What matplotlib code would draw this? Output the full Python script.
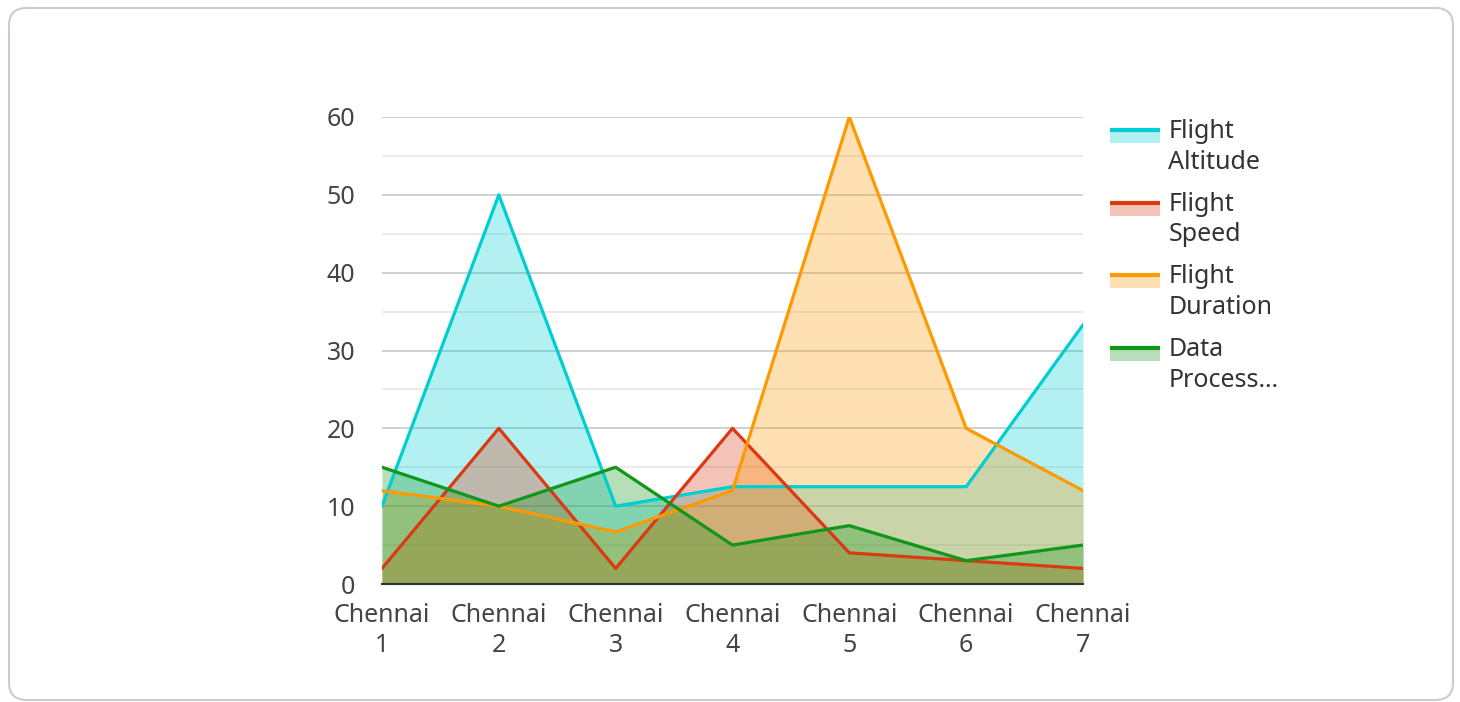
import matplotlib
matplotlib.use("Agg")
import matplotlib.pyplot as plt
from matplotlib.patches import FancyBboxPatch, Rectangle
from matplotlib.lines import Line2D
from matplotlib.legend_handler import HandlerBase

plt.rcParams['font.family'] = ['Noto Sans', 'DejaVu Sans']

categories = ["Chennai\n1", "Chennai\n2", "Chennai\n3", "Chennai\n4", "Chennai\n5", "Chennai\n6", "Chennai\n7"]
altitude = [10, 50, 10, 12.5, 12.5, 12.5, 33.3]
speed = [2, 20, 2, 20, 4, 3, 2]
duration = [12, 10, 6.7, 12, 60, 20, 12]
processing = [15, 10, 15, 5, 7.5, 3, 5]

series = [
    ("Flight\nAltitude", altitude, "#00CED1"),
    ("Flight\nSpeed", speed, "#DC3912"),
    ("Flight\nDuration", duration, "#FF9900"),
    ("Data\nProcess\u2026", processing, "#109618"),
]

FS = 18


class AreaHandler(HandlerBase):
    # swatch: line on top of a pale block, lined up with the first text line
    def create_artists(self, legend, orig_handle, xdescent, ydescent, width, height, fontsize, trans):
        color = orig_handle.get_color()
        y_line = 1.06 * fontsize
        y_bot = 0.54 * fontsize
        rect = Rectangle((-xdescent, y_bot), width, y_line - y_bot,
                         facecolor=color, alpha=0.3, edgecolor="none", transform=trans)
        line = Line2D([-xdescent, -xdescent + width], [y_line, y_line],
                      color=color, lw=3, solid_capstyle="butt", transform=trans)
        return [rect, line]


fig = plt.figure(figsize=(14.6, 7.02), dpi=100)
card = FancyBboxPatch((9 / 1460, 2 / 702), 1444 / 1460, 692 / 702,
                      boxstyle="round,pad=0,rounding_size=0.012",
                      transform=fig.transFigure, facecolor="white",
                      edgecolor="#cccccc", lw=1.5, mutation_aspect=2.08, zorder=-5)
fig.patches.append(card)

ax = fig.add_axes([382 / 1460, 1 - 584 / 702, (1083 - 382) / 1460, (584 - 117) / 702])
ax.set_facecolor("none")

x = list(range(len(categories)))
handles = []
for label, vals, color in series:
    ax.fill_between(x, 0, vals, color=color, alpha=0.3, lw=0, zorder=2)
    ln, = ax.plot(x, vals, color=color, lw=2.3, label=label, zorder=3)
    handles.append(ln)

ax.set_xlim(0, 6)
ax.set_ylim(0, 60)
ax.set_yticks(range(0, 61, 10))
ax.set_yticks(range(5, 60, 10), minor=True)
ax.set_xticks(x)
ax.set_xticklabels(categories)
ax.grid(axis="y", which="major", color="#c8c8c8", lw=1.2, zorder=1)
ax.grid(axis="y", which="minor", color="#e6e6e6", lw=1.2, zorder=1)
for s in ["top", "right", "left"]:
    ax.spines[s].set_visible(False)
ax.spines["bottom"].set_color("#333333")
ax.spines["bottom"].set_linewidth(1.5)
ax.spines["bottom"].set_zorder(4)
ax.tick_params(axis="both", which="both", length=0, labelsize=FS, labelcolor="#444444")
ax.tick_params(axis="y", pad=19)
ax.tick_params(axis="x", pad=13.5)
for t in ax.get_xticklabels():
    t.set_linespacing(1.3)

leg = fig.legend(handles=handles, handler_map={Line2D: AreaHandler()},
                 loc="upper left", bbox_to_anchor=(1110 / 1460, 1 - 119 / 702),
                 frameon=False, fontsize=FS, handlelength=2.0, handletextpad=0.33,
                 labelspacing=0.68, borderaxespad=0, borderpad=0)
for t in leg.get_texts():
    t.set_color("#333333")
    t.set_linespacing(1.3)

fig.savefig("out.png", dpi=100)
